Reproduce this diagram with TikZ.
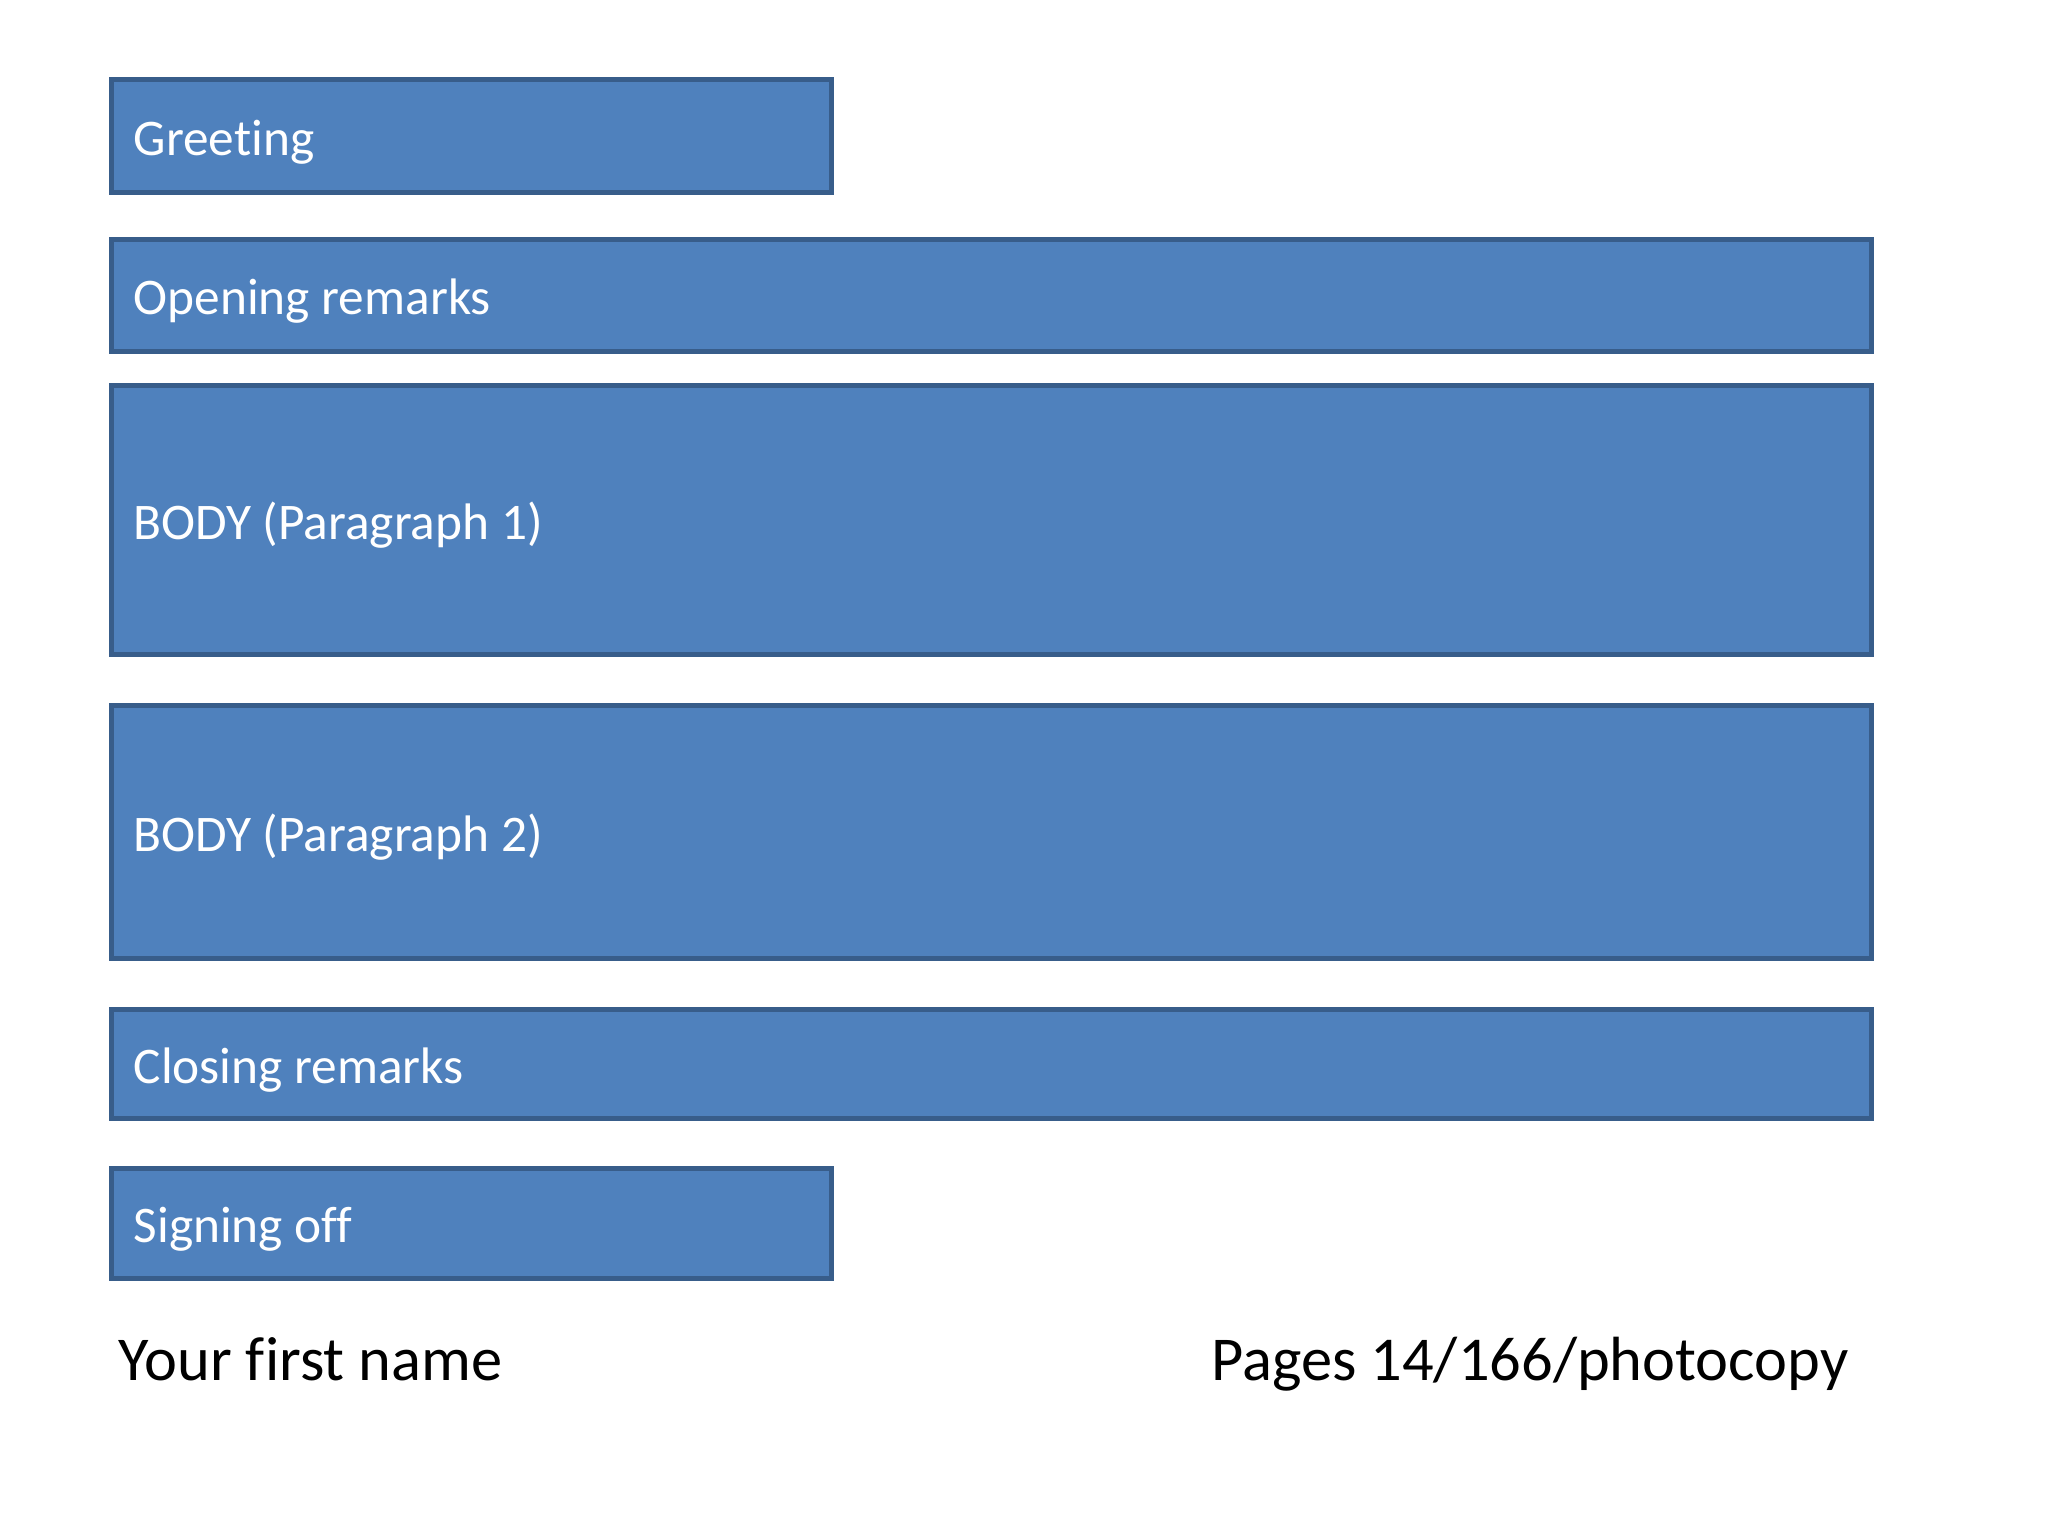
\documentclass[tikz,border=0pt]{standalone}
\usepackage{fontspec}
\setmainfont[Ligatures=NoCommon]{Carlito}
\definecolor{boxfill}{HTML}{4F81BD}
\definecolor{boxborder}{HTML}{385D8A}
\begin{document}
\begin{tikzpicture}[x=0.01cm,y=-0.01cm,
  partbox/.style={draw=boxborder, fill=boxfill, line width=1.5pt},
  boxlabel/.style={anchor=base west, inner sep=0pt, text=white, font=\fontsize{14.6}{18}\selectfont},
  footlabel/.style={inner sep=0pt, text=black, font=\fontsize{17.75}{21}\selectfont}]
\useasboundingbox (0,0) rectangle (2048,1536);
\fill[white] (0,0) rectangle (2048,1536);
% boxes
\draw[partbox] (111.5,79.5) rectangle (831.5,192.5);
\coordinate (greet) at (111.5,136);
\draw[partbox] (111.5,239.5) rectangle (1871.5,351.5);
\coordinate (open) at (111.5,295.5);
\draw[partbox] (111.5,385.5) rectangle (1871.5,654.5);
\coordinate (body1) at (111.5,520);
\draw[partbox] (111.5,705.5) rectangle (1871.5,958.5);
\coordinate (body2) at (111.5,832);
\draw[partbox] (111.5,1009.5) rectangle (1871.5,1118.5);
\coordinate (close) at (111.5,1064);
\draw[partbox] (111.5,1168.5) rectangle (831.5,1278.5);
\coordinate (sign) at (111.5,1223.5);
% labels
\node[boxlabel] (tgreet) at ([xshift=0.215cm,yshift=-0.19cm]greet) {Greeting};
\node[boxlabel] (topen) at ([xshift=0.215cm,yshift=-0.19cm]open) {Opening remarks};
\node[boxlabel] (tbody1) at ([xshift=0.215cm,yshift=-0.19cm]body1) {BODY (Paragraph 1)};
\node[boxlabel] (tbody2) at ([xshift=0.215cm,yshift=-0.19cm]body2) {BODY (Paragraph 2)};
\node[boxlabel] (tclose) at ([xshift=0.215cm,yshift=-0.19cm]close) {Closing remarks};
\node[boxlabel] (tsign) at ([xshift=0.215cm,yshift=-0.19cm]sign) {Signing off};
\node[footlabel, anchor=base west] (name) at (118,1380) {Your first name};
\node[footlabel, anchor=base east] (pages) at (1849,1380) {Pages 14/166/photocopy};
\end{tikzpicture}
\end{document}
